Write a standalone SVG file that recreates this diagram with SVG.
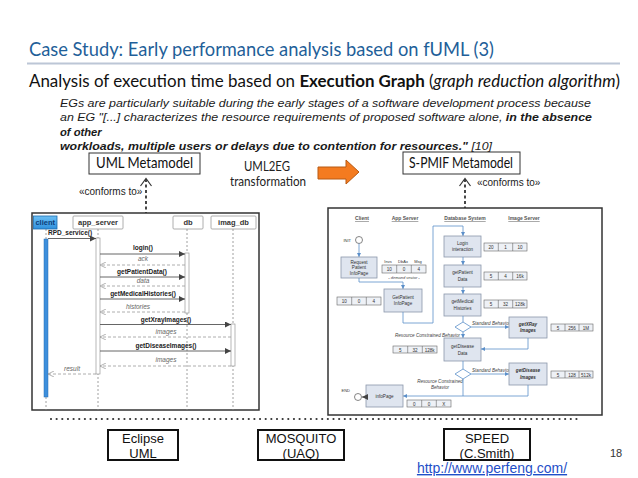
<svg xmlns="http://www.w3.org/2000/svg" width="638" height="478" viewBox="0 0 638 478">
<style>
.cal{font-family:Lato,"Open Sans","Liberation Sans",sans-serif}
.ar{font-family:"Liberation Sans",Arial,sans-serif}
.para{font-family:"Liberation Sans",Arial,sans-serif;font-size:11.2px;font-style:italic;fill:#1a1a1a}
.b{font-weight:bold}
.seqcall{font-family:"Liberation Sans",Arial,sans-serif;font-size:6.5px;font-weight:bold;fill:#222;text-anchor:middle}
.seqret{font-family:"Liberation Sans",Arial,sans-serif;font-size:6.5px;font-style:italic;fill:#666;text-anchor:middle}
.ll{stroke:#888;stroke-width:0.8;stroke-dasharray:2 2;fill:none}
.call{stroke:#555;stroke-width:0.9;fill:none;marker-end:url(#fa)}
.ret{stroke:#999;stroke-width:0.8;stroke-dasharray:3 2;fill:none;marker-end:url(#oa)}
.hdr{font-family:"Liberation Sans",Arial,sans-serif;font-size:7.5px;font-weight:bold;fill:#333;text-anchor:middle}
.eg{font-family:"Liberation Sans",Arial,sans-serif;font-size:4.6px;fill:#333;text-anchor:middle}
.egi{font-family:"Liberation Sans",Arial,sans-serif;font-size:4.6px;font-style:italic;fill:#444}
.egh{font-family:"Liberation Sans",Arial,sans-serif;font-size:5px;font-weight:bold;fill:#555;text-anchor:middle;text-decoration:underline}
.node{fill:#dfe5ef;stroke:#8a97ab;stroke-width:0.8}
.vec{fill:#eef1f6;stroke:#666;stroke-width:0.6}
.bl{stroke:#5b8fc9;stroke-width:0.8;fill:none}
.bla{stroke:#5b8fc9;stroke-width:0.8;fill:none;marker-end:url(#ba)}
.tool{fill:#fff;stroke:#111;stroke-width:2}
.tooltxt{font-family:"Liberation Sans",Arial,sans-serif;font-size:13px;fill:#111;text-anchor:middle}
.conf{stroke:#333;stroke-width:1.8;stroke-dasharray:3 2.5;fill:none}
.chev{stroke:#333;stroke-width:1.2;fill:none}
</style>
<defs>
<marker id="fa" viewBox="0 0 8 8" refX="8" refY="4" markerWidth="6" markerHeight="6" orient="auto" markerUnits="userSpaceOnUse"><path d="M0,0 L8,4 L0,8 z" fill="#444"/></marker>
<marker id="oa" viewBox="0 0 8 8" refX="8" refY="4" markerWidth="6" markerHeight="6" orient="auto" markerUnits="userSpaceOnUse"><path d="M0,0 L8,4 L0,8" fill="none" stroke="#999" stroke-width="1"/></marker>
<marker id="ba" viewBox="0 0 8 8" refX="8" refY="4" markerWidth="4" markerHeight="4" orient="auto" markerUnits="userSpaceOnUse"><path d="M0,0 L8,4 L0,8 z" fill="#5b8fc9"/></marker>
<linearGradient id="cg" x1="0" y1="0" x2="0" y2="1"><stop offset="0" stop-color="#6cc0f5"/><stop offset="1" stop-color="#2f8fdc"/></linearGradient>
</defs>

<rect width="638" height="478" fill="#fff"/>

<!-- header -->
<g id="title">
<text class="cal" x="29" y="56" font-size="19" fill="#1f5f99" textLength="465" lengthAdjust="spacingAndGlyphs">Case Study: Early performance analysis based on fUML  (3)</text>
<line x1="27" y1="63.5" x2="620" y2="63.5" stroke="#bcc6d6" stroke-width="2"/>
</g>
<g id="subtitle">
<text class="cal" x="29" y="87" font-size="17" fill="#111" textLength="591" lengthAdjust="spacingAndGlyphs">Analysis of execution time based on <tspan class="b">Execution Graph</tspan> (<tspan font-style="italic">graph reduction algorithm</tspan>)</text>
</g>
<g id="quote">
<text class="para" x="60" y="107" textLength="531" lengthAdjust="spacingAndGlyphs">EGs are particularly suitable during the early stages of a software development process because</text>
<text class="para" x="60" y="121" textLength="532" lengthAdjust="spacingAndGlyphs">an EG "[...] characterizes the resource requirements of proposed software alone, <tspan class="b">in the absence</tspan></text>
<text class="para b" x="60" y="136">of other</text>
<text class="para" x="60" y="150" textLength="432" lengthAdjust="spacingAndGlyphs"><tspan class="b">workloads, multiple users or delays due to contention for resources."</tspan> [10]</text>
</g>

<!-- metamodels -->
<g id="uml-metamodel">
<rect x="89" y="153" width="111" height="21" fill="#fff" stroke="#333" stroke-width="1"/>
<text class="cal" x="144.5" y="168" font-size="15" fill="#111" text-anchor="middle" textLength="97" lengthAdjust="spacingAndGlyphs">UML Metamodel</text>
</g>
<g id="spmif-metamodel">
<rect x="403" y="152" width="117" height="22" fill="#fff" stroke="#333" stroke-width="1"/>
<text class="cal" x="461" y="168" font-size="15" fill="#111" text-anchor="middle" textLength="104" lengthAdjust="spacingAndGlyphs">S-PMIF Metamodel</text>
</g>
<g id="uml2eg">
<text class="cal" x="267" y="171" font-size="13" fill="#222" text-anchor="middle" textLength="46" lengthAdjust="spacingAndGlyphs">UML2EG</text>
<text class="cal" x="268" y="185.5" font-size="13" fill="#222" text-anchor="middle" textLength="76" lengthAdjust="spacingAndGlyphs">transformation</text>
<path d="M318,167 H346 V160 L359,172 L346,184 V179 H318 z" fill="#f47b20" stroke="#b85a12" stroke-width="1"/>
</g>

<!-- conforms-to connectors -->
<g id="connectors">
<line class="conf" x1="146" y1="179" x2="146" y2="213"/>
<path class="chev" d="M140.5,186 L146,178.5 L151.5,186"/>
<text class="ar" x="79" y="195" font-size="10" fill="#222">«conforms to»</text>
<line class="conf" x1="465" y1="179" x2="465" y2="208"/>
<path class="chev" d="M459.5,186 L465,178.5 L470.5,186"/>
<text class="ar" x="477" y="186" font-size="10" fill="#222">«conforms to»</text>
</g>

<!-- sequence diagram -->
<g id="sequence-diagram">
<rect x="32" y="213" width="227" height="197" fill="#fff" stroke="#333" stroke-width="1.5"/>
<line class="ll" x1="46" y1="229" x2="46" y2="410"/>
<line class="ll" x1="98" y1="229" x2="98" y2="410"/>
<line class="ll" x1="187" y1="229" x2="187" y2="410"/>
<line class="ll" x1="233" y1="229" x2="233" y2="410"/>
<rect x="33.5" y="216" width="23.5" height="13" fill="url(#cg)" stroke="#1c6db0" stroke-width="0.8"/>
<text class="hdr" x="45.2" y="225" fill="#0b3d7a" style="fill:#0b3d7a">client</text>
<rect x="73" y="216" width="50" height="13" rx="1" fill="#fff" stroke="#999" stroke-width="0.8"/>
<text class="hdr" x="98" y="225">app_server</text>
<rect x="173" y="216" width="30" height="13" rx="1" fill="#fff" stroke="#999" stroke-width="0.8"/>
<text class="hdr" x="188" y="225">db</text>
<rect x="211" y="216" width="45" height="13" rx="1" fill="#fff" stroke="#999" stroke-width="0.8"/>
<text class="hdr" x="233.5" y="225">imag_db</text>
<rect x="44" y="239" width="4" height="158" fill="#3d8fdc" stroke="#2a6fb5" stroke-width="0.5"/>
<rect x="96" y="238" width="4" height="136" fill="#fff" stroke="#999" stroke-width="0.7"/>
<rect x="185" y="253" width="4" height="60" fill="#fff" stroke="#999" stroke-width="0.7"/>
<rect x="231" y="324" width="4" height="42" fill="#fff" stroke="#999" stroke-width="0.7"/>
<text class="seqcall" x="48" y="235" style="text-anchor:start">RPD_service()</text>
<line class="call" x1="48" y1="238.5" x2="96" y2="238.5"/>
<text class="seqcall" x="143" y="250">login()</text>
<line class="call" x1="100" y1="254" x2="185" y2="254"/>
<text class="seqret" x="143" y="261">ack</text>
<line class="ret" x1="185" y1="265" x2="100" y2="265"/>
<text class="seqcall" x="142" y="273.5">getPatientData()</text>
<line class="call" x1="100" y1="277" x2="185" y2="277"/>
<text class="seqret" x="143" y="283">data</text>
<line class="ret" x1="185" y1="286" x2="100" y2="286"/>
<text class="seqcall" x="143" y="295.5">getMedicalHistories()</text>
<line class="call" x1="100" y1="299" x2="185" y2="299"/>
<text class="seqret" x="138" y="309">histories</text>
<line class="ret" x1="185" y1="312" x2="100" y2="312"/>
<text class="seqcall" x="166" y="322">getXrayImages()</text>
<line class="call" x1="100" y1="324.5" x2="231" y2="324.5"/>
<text class="seqret" x="166" y="334">images</text>
<line class="ret" x1="231" y1="337" x2="100" y2="337"/>
<text class="seqcall" x="166" y="348">getDiseaseImages()</text>
<line class="call" x1="100" y1="351" x2="231" y2="351"/>
<text class="seqret" x="166" y="362">images</text>
<line class="ret" x1="231" y1="366" x2="100" y2="366"/>
<text class="seqret" x="72" y="371">result</text>
<line class="ret" x1="96" y1="374" x2="48" y2="374"/>
</g>

<!-- execution graph -->
<g id="execution-graph">
<rect x="328" y="208" width="274" height="207" fill="#fff" stroke="#333" stroke-width="1.5"/>
<text class="egh" x="362" y="220">Client</text>
<text class="egh" x="405" y="220">App Server</text>
<text class="egh" x="465" y="220">Database System</text>
<text class="egh" x="524" y="220">Image Server</text>

<text class="eg" x="351" y="242" style="text-anchor:end;font-size:4px">INIT</text>
<circle cx="359" cy="240" r="3.5" fill="#fff" stroke="#666" stroke-width="0.8"/>
<line class="bla" x1="359" y1="243.5" x2="359" y2="257"/>
<rect class="node" x="341" y="257" width="36" height="21"/>
<text class="eg" x="359" y="263.5">Request</text>
<text class="eg" x="359" y="269">Patient</text>
<text class="eg" x="359" y="274.5">InfoPage</text>

<text class="eg" x="388" y="263" style="font-size:4px">Invs</text>
<text class="eg" x="403" y="263" style="font-size:4px">DbAx</text>
<text class="eg" x="418" y="263" style="font-size:4px">Msg</text>
<rect class="vec" x="382" y="265" width="44" height="8"/>
<line x1="396.7" y1="265" x2="396.7" y2="273" stroke="#666" stroke-width="0.6"/>
<line x1="411.3" y1="265" x2="411.3" y2="273" stroke="#666" stroke-width="0.6"/>
<text class="eg" x="389.3" y="271">10</text><text class="eg" x="404" y="271">0</text><text class="eg" x="418.7" y="271">4</text>
<text class="egi" x="404" y="279" style="text-anchor:middle;font-size:4px">- demand vector -</text>

<path class="bla" d="M359,278 V282 H403 V289"/>
<rect class="node" x="384" y="289" width="38" height="23"/>
<text class="eg" x="403" y="298.5">GetPatient</text>
<text class="eg" x="403" y="304.5">InfoPage</text>
<rect class="vec" x="337" y="297" width="44" height="8"/>
<line x1="351.7" y1="297" x2="351.7" y2="305" stroke="#666" stroke-width="0.6"/>
<line x1="366.3" y1="297" x2="366.3" y2="305" stroke="#666" stroke-width="0.6"/>
<text class="eg" x="344.3" y="303">10</text><text class="eg" x="359" y="303">0</text><text class="eg" x="373.7" y="303">4</text>

<path class="bla" d="M403,312 V323 H433 V226 H463 V236"/>
<rect class="node" x="444" y="236" width="37" height="21"/>
<text class="eg" x="462.5" y="245">Login</text>
<text class="eg" x="462.5" y="251">interaction</text>
<rect class="vec" x="484" y="243" width="43" height="8"/>
<line x1="498.3" y1="243" x2="498.3" y2="251" stroke="#666" stroke-width="0.6"/>
<line x1="512.7" y1="243" x2="512.7" y2="251" stroke="#666" stroke-width="0.6"/>
<text class="eg" x="491" y="249">20</text><text class="eg" x="505.5" y="249">1</text><text class="eg" x="520" y="249">10</text>

<line class="bla" x1="463" y1="257" x2="463" y2="265"/>
<rect class="node" x="444" y="265" width="37" height="22"/>
<text class="eg" x="462.5" y="274">getPatient</text>
<text class="eg" x="462.5" y="281">Data</text>
<rect class="vec" x="484" y="272" width="43" height="8"/>
<line x1="498.3" y1="272" x2="498.3" y2="280" stroke="#666" stroke-width="0.6"/>
<line x1="512.7" y1="272" x2="512.7" y2="280" stroke="#666" stroke-width="0.6"/>
<text class="eg" x="491" y="278">5</text><text class="eg" x="505.5" y="278">4</text><text class="eg" x="520" y="278">16k</text>

<line class="bla" x1="463" y1="287" x2="463" y2="294"/>
<rect class="node" x="444" y="294" width="37" height="22"/>
<text class="eg" x="462.5" y="303">getMedical</text>
<text class="eg" x="462.5" y="310">Histories</text>
<rect class="vec" x="484" y="300" width="43" height="8"/>
<line x1="498.3" y1="300" x2="498.3" y2="308" stroke="#666" stroke-width="0.6"/>
<line x1="512.7" y1="300" x2="512.7" y2="308" stroke="#666" stroke-width="0.6"/>
<text class="eg" x="491" y="306">5</text><text class="eg" x="505.5" y="306">32</text><text class="eg" x="520" y="306">128k</text>

<line class="bl" x1="463" y1="316" x2="463" y2="322"/>
<path d="M463,322 L471,327 L463,332 L455,327 z" fill="#fff" stroke="#5b8fc9" stroke-width="0.8"/>
<text class="egi" x="472" y="325">Standard Behavior</text>
<line class="bla" x1="471" y1="327" x2="509" y2="327"/>
<rect class="node" x="509" y="317" width="38" height="21"/>
<text class="eg b" x="528" y="325.5" font-style="italic">getXRay</text>
<text class="eg b" x="528" y="332" font-style="italic">Images</text>
<rect class="vec" x="551" y="324" width="42" height="7"/>
<line x1="565" y1="324" x2="565" y2="331" stroke="#666" stroke-width="0.6"/>
<line x1="579" y1="324" x2="579" y2="331" stroke="#666" stroke-width="0.6"/>
<text class="eg" x="558" y="329.5">5</text><text class="eg" x="572" y="329.5">256</text><text class="eg" x="586" y="329.5">1M</text>

<text class="egi" x="395" y="336.5">Resource Constrained Behavior</text>
<line class="bla" x1="463" y1="332" x2="463" y2="338"/>
<rect class="node" x="444" y="338" width="37" height="23"/>
<text class="eg" x="462.5" y="347.5">getDisease</text>
<text class="eg" x="462.5" y="354.5">Data</text>
<path class="bla" d="M528,338 V349 H481"/>
<rect class="vec" x="393" y="346" width="44" height="7"/>
<line x1="407.7" y1="346" x2="407.7" y2="353" stroke="#666" stroke-width="0.6"/>
<line x1="422.3" y1="346" x2="422.3" y2="353" stroke="#666" stroke-width="0.6"/>
<text class="eg" x="400.3" y="351.5">5</text><text class="eg" x="415" y="351.5">32</text><text class="eg" x="429.7" y="351.5">128k</text>

<line class="bl" x1="463" y1="361" x2="463" y2="369"/>
<path d="M463,369 L471,374 L463,379 L455,374 z" fill="#fff" stroke="#5b8fc9" stroke-width="0.8"/>
<text class="egi" x="472" y="372">Standard Behavior</text>
<line class="bla" x1="471" y1="374" x2="509" y2="374"/>
<rect class="node" x="509" y="363" width="38" height="22"/>
<text class="eg b" x="528" y="372" font-style="italic">getDisease</text>
<text class="eg b" x="528" y="379" font-style="italic">Images</text>
<rect class="vec" x="551" y="371" width="42" height="7"/>
<line x1="565" y1="371" x2="565" y2="378" stroke="#666" stroke-width="0.6"/>
<line x1="579" y1="371" x2="579" y2="378" stroke="#666" stroke-width="0.6"/>
<text class="eg" x="558" y="376.5">5</text><text class="eg" x="572" y="376.5">128</text><text class="eg" x="586" y="376.5">512k</text>

<text class="egi" x="440" y="383" style="text-anchor:middle">Resource Constrained</text>
<text class="egi" x="440" y="389" style="text-anchor:middle">Behavior</text>
<path class="bl" d="M528,385 V396 H463"/>
<path class="bla" d="M463,379 V396 H403"/>
<rect class="node" x="366" y="385" width="37" height="22"/>
<text class="eg" x="384.5" y="398">infoPage</text>
<text class="eg" x="350" y="392" style="text-anchor:end;font-size:4px">END</text>
<circle cx="358" cy="397" r="3.5" fill="#fff" stroke="#666" stroke-width="0.8"/>
<line x1="366" y1="397" x2="362" y2="397" stroke="#333" stroke-width="0.8" marker-end="url(#fa)"/>
<rect class="vec" x="407" y="400" width="44" height="7"/>
<line x1="421.7" y1="400" x2="421.7" y2="407" stroke="#666" stroke-width="0.6"/>
<line x1="436.3" y1="400" x2="436.3" y2="407" stroke="#666" stroke-width="0.6"/>
<text class="eg" x="414.3" y="405.5">0</text><text class="eg" x="429" y="405.5">0</text><text class="eg" x="443.7" y="405.5">X</text>
</g>

<!-- separator -->
<line x1="51" y1="419" x2="577" y2="419" stroke="#333" stroke-width="2.2" stroke-linecap="round" stroke-dasharray="0 5.65"/>

<!-- tools -->
<g id="eclipse-uml">
<rect class="tool" x="108" y="430" width="70" height="30"/>
<text class="tooltxt" x="143" y="443">Eclipse</text>
<text class="tooltxt" x="143" y="457.5">UML</text>
</g>
<g id="mosquito">
<rect class="tool" x="258" y="430" width="86" height="30"/>
<text class="tooltxt" x="301" y="443">MOSQUITO</text>
<text class="tooltxt" x="301" y="457.5">(UAQ)</text>
</g>
<g id="speed">
<rect class="tool" x="444" y="429" width="86" height="31"/>
<text class="tooltxt" x="487" y="443">SPEED</text>
<text class="tooltxt" x="487" y="457.5">(C.Smith)</text>
</g>
<text class="ar" x="610" y="457" font-size="11" fill="#333">18</text>
<text class="ar" x="492" y="473" font-size="14" fill="#1f4fc8" text-anchor="middle" text-decoration="underline">http://www.perfeng.com/</text>
</svg>
